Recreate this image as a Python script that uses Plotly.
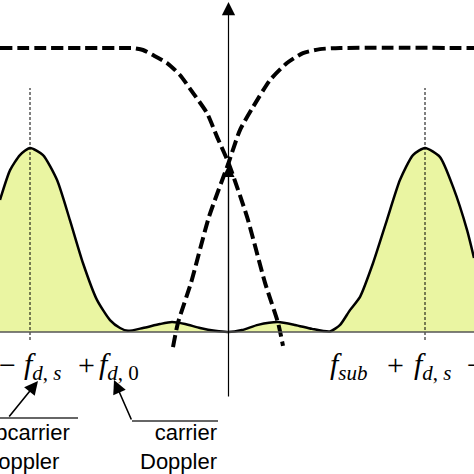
import plotly.graph_objects as go

# ---- data (normalised: frequency in units of f_sub, amplitude of filter = 1) ----
spec_x = [-1.157, -1.106, -1.056, -1.005, -0.939, -0.868, -0.803, -0.737, -0.666, -0.600,
          -0.549, -0.509, -0.433, -0.347, -0.286, -0.220, -0.144, -0.068, -0.003, 0.068,
          0.149, 0.251, 0.337, 0.423, 0.514, 0.565, 0.615, 0.666, 0.732, 0.802,
          0.868, 0.934, 0.995, 1.071, 1.137, 1.208, 1.243]
spec_y = [0.465, 0.570, 0.623, 0.648, 0.623, 0.535, 0.394, 0.243, 0.113, 0.042,
          0.014, 0.004, 0.014, 0.028, 0.035, 0.028, 0.014, 0.004, 0.000, 0.007,
          0.025, 0.035, 0.025, 0.011, 0.002, 0.025, 0.077, 0.124, 0.243, 0.394,
          0.535, 0.623, 0.648, 0.616, 0.511, 0.359, 0.261]

fall_x = [-1.157, -0.534, -0.484, -0.433, -0.382, -0.311, -0.246, -0.180, -0.109, -0.058,
          0.000, 0.094, 0.185, 0.251, 0.276]
fall_y = [1.000, 1.000, 1.000, 0.993, 0.975, 0.947, 0.905, 0.842, 0.771, 0.687,
          0.595, 0.405, 0.173, 0.032, -0.049]

rise_x = [-0.281, -0.256, -0.190, -0.099, 0.000, 0.058, 0.124, 0.210, 0.296, 0.377,
          0.463, 0.565, 1.243]
rise_y = [-0.053, 0.032, 0.173, 0.405, 0.595, 0.711, 0.792, 0.887, 0.947, 0.982,
          0.996, 1.000, 1.000]

sub_peaks = [-1.005, 0.995]
carrier_level = 0.588

# ---- pixel helpers for layout placement ----
def X(px):
    return (px - 228.5) / 197.5

def Y(py):
    return (332 - py) / 284

def PX(px):
    return px / 474

def PY(py):
    return 1 - py / 474

fig = go.Figure()

fig.add_trace(go.Scatter(
    x=spec_x, y=spec_y, mode='lines',
    line=dict(color='black', width=2.5, shape='spline', smoothing=0.6),
    fill='tozeroy', fillcolor='#EAF5A2', hoverinfo='skip'))

for p in sub_peaks:
    fig.add_shape(type='line', x0=p, x1=p, y0=Y(340), y1=Y(88),
                  line=dict(color='black', width=1, dash='3px,2px'))

fig.add_shape(type='line', x0=X(0), x1=X(474), y0=0, y1=0,
              line=dict(color='#555555', width=1.5))

dash_style = dict(color='black', width=4, dash='12px,5px', shape='spline', smoothing=0.6)
fig.add_trace(go.Scatter(x=fall_x, y=fall_y, mode='lines', line=dash_style, hoverinfo='skip'))
fig.add_trace(go.Scatter(x=rise_x, y=rise_y, mode='lines', line=dash_style, hoverinfo='skip'))

ann = []
# vertical axis with arrow
ann.append(dict(x=0, y=Y(2), ax=0, ay=Y(398), xref='x', yref='y', axref='x', ayref='y',
                text='', showarrow=True, arrowhead=2, arrowsize=2.2, arrowwidth=1.2,
                arrowcolor='black'))
# carrier impulse arrow
ann.append(dict(x=0, y=carrier_level, ax=0, ay=0, xref='x', yref='y', axref='x', ayref='y',
                text='', showarrow=True, arrowhead=2, arrowsize=2, arrowwidth=1.2,
                arrowcolor='black'))

# pointer arrows
ann.append(dict(x=X(38), y=Y(381), ax=X(8), ay=Y(418), xref='x', yref='y', axref='x', ayref='y',
                text='', showarrow=True, arrowhead=2, arrowsize=1.7, arrowwidth=1.6,
                arrowcolor='black'))
ann.append(dict(x=X(114), y=Y(380), ax=X(132), ay=Y(421), xref='x', yref='y', axref='x', ayref='y',
                text='', showarrow=True, arrowhead=2, arrowsize=1.7, arrowwidth=1.6,
                arrowcolor='black'))
fig.add_shape(type='line', x0=X(0), x1=X(78), y0=Y(418), y1=Y(418),
              line=dict(color='#333333', width=1.5))
fig.add_shape(type='line', x0=X(132), x1=X(218), y0=Y(421), y1=Y(421),
              line=dict(color='#333333', width=1.5))

mfont = dict(family='Liberation Serif', size=30, color='black')
def mtext(txt, px, py):
    ann.append(dict(x=PX(px), y=PY(py), xref='paper', yref='paper', text=txt, showarrow=False,
                    xanchor='left', yanchor='middle', font=mfont))

mtext('\u2212', -3, 364)
mtext('<i>f</i><sub><i>d</i>, <i>s</i></sub>', 22, 366)
mtext('+', 76, 364)
mtext('<i>f</i><sub><i>d</i>, 0</sub>', 97, 366)
mtext('<i>f</i><sub><i>sub</i></sub>', 328, 366)
mtext('+', 385, 364)
mtext('<i>f</i><sub><i>d</i>, <i>s</i></sub>', 412, 366)
mtext('\u2212', 465, 364)

tfont = dict(family='Liberation Sans', size=22, color='black')
ann.append(dict(x=PX(21), y=PY(447), xref='paper', yref='paper', text='subcarrier<br>Doppler',
                showarrow=False, xanchor='center', yanchor='middle', align='center', font=tfont))
ann.append(dict(x=PX(219), y=PY(447), xref='paper', yref='paper', text='carrier<br>Doppler',
                showarrow=False, xanchor='right', yanchor='middle', align='right', font=tfont))

fig.update_layout(
    width=474, height=474, margin=dict(l=0, r=0, t=0, b=0),
    paper_bgcolor='white', plot_bgcolor='white', showlegend=False,
    annotations=ann,
    xaxis=dict(range=[X(0), X(474)], visible=False, fixedrange=True),
    yaxis=dict(range=[Y(474), Y(0)], visible=False, fixedrange=True),
)

fig.write_html('out.html', config={'displayModeBar': False},
               post_script="document.body.style.margin='0';document.body.style.overflow='hidden';")
